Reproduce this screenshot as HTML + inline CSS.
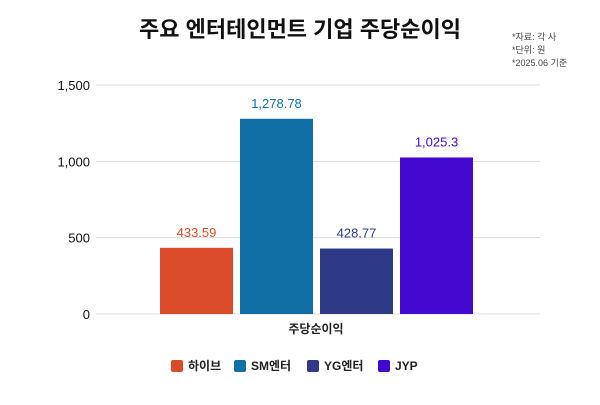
<!DOCTYPE html>
<html><head><meta charset="utf-8"><style>
body{margin:0;background:#fff;}
svg text{font-family:"Liberation Sans","Noto Sans CJK KR",sans-serif;}
</style></head><body>
<svg width="600" height="400" xmlns="http://www.w3.org/2000/svg">
<rect width="600" height="400" fill="#fff"/>
<text x="300" y="37" text-anchor="middle" font-size="22" font-weight="bold" fill="#111">주요 엔터테인먼트 기업 주당순이익</text>
<g font-size="9" fill="#444">
<text x="512" y="40">*자료: 각 사</text>
<text x="512" y="53">*단위: 원</text>
<text x="512" y="66">*2025.06 기준</text>
</g>
<g id="grid"></g><g id="bars"></g>
<text x="316" y="333" text-anchor="middle" font-size="12" fill="#222" font-weight="bold">주당순이익</text>
<g id="legend"></g>
<script>
const categories=["하이브","SM엔터","YG엔터","JYP"];
const values=[433.59,1278.78,428.77,1025.3];
const labels=["433.59","1,278.78","428.77","1,025.3"];
const ticks=[0,500,1000,1500];
const tickLabels=["0","500","1,000","1,500"];
const colors=["#d94b29","#126fa6","#2e3a85","#4309d1"];
const NS="http://www.w3.org/2000/svg";
const y0=314,y1=85,vmax=1500;
const y=v=>y0-(v/vmax)*(y0-y1);
const x=i=>160+i*80;
function mk(t,a,p){const e=document.createElementNS(NS,t);for(const k in a)e.setAttribute(k,a[k]);p.appendChild(e);return e;}
const g=document.getElementById('grid');
ticks.forEach((t,i)=>{
 const l=mk('line',{x1:96,x2:540,y1:y(t),y2:y(t),stroke:'#ddd','stroke-width':1},g);
 
 
 const tx=mk('text',{x:90,y:y(t)+5,'text-anchor':'end','font-size':13,fill:'#111'},g);
 tx.textContent=tickLabels[i];
 
 
});
const b=document.getElementById('bars');
values.forEach((v,i)=>{
 const r=mk('rect',{x:x(i),y:y(v),width:73,height:y0-y(v),fill:colors[i]},b);
 
 
 const t=mk('text',{x:x(i)+36.5,y:y(v)-11,'text-anchor':'middle','font-size':13,fill:colors[i]},b);
 t.textContent=labels[i];
 
 
});
const lg=document.getElementById('legend');
const lx=[171,234,307,378];
categories.forEach((c,i)=>{
 const r=mk('rect',{x:lx[i],y:360,width:12,height:12,rx:2,fill:colors[i]},lg);
 
 
 const t=mk('text',{x:lx[i]+17,y:370,'font-size':12,'font-weight':'bold',fill:'#222'},lg);
 t.textContent=c;
 
 
});
</script>
</svg>
</body></html>
